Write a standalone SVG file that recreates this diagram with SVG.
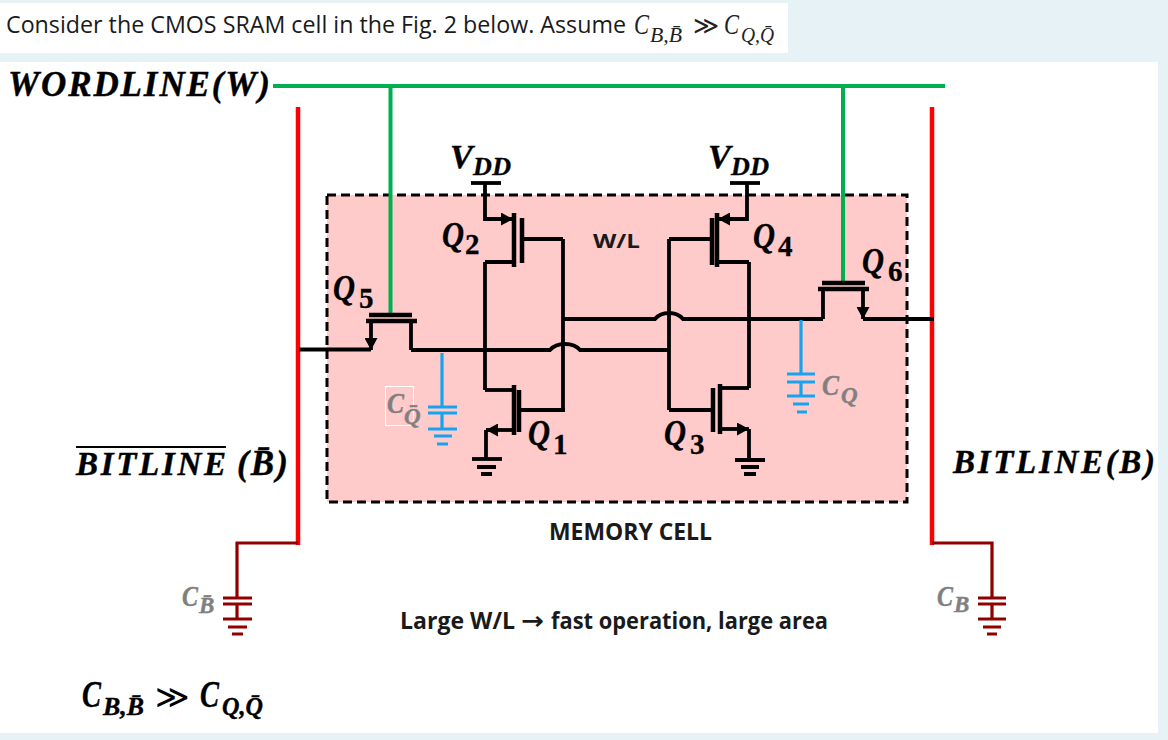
<svg xmlns="http://www.w3.org/2000/svg" width="1168" height="740" viewBox="0 0 1168 740">
<style>
.w{fill:none;stroke:#000;stroke-width:3.8;stroke-linejoin:miter}
.b{fill:none;stroke:#000;stroke-width:4.500}
.g{fill:none;stroke:#00b050;stroke-width:4}
.r{fill:none;stroke:#f00;stroke-width:4.500}
.d{fill:none;stroke:#8f0000;stroke-width:3.200}
.c{fill:none;stroke:#17a3ee;stroke-width:3.200}
.m{font-family:"Liberation Serif",serif;font-weight:bold;font-style:italic;fill:#000;stroke:#000;stroke-width:.4}
.n{font-family:"Liberation Serif",serif;font-weight:bold;fill:#000;stroke:#000;stroke-width:.3}
.gy{fill:#808080;stroke:#808080}
.s{font-family:"Open Sans","Liberation Sans",sans-serif;fill:#1a1a1a}
.sb{font-family:"Open Sans","Liberation Sans",sans-serif;font-weight:700;fill:#1a1a1a}
.t{font-family:"Liberation Serif",serif;font-style:italic;fill:#222}
</style>
<defs>
<marker id="ah" markerUnits="userSpaceOnUse" markerWidth="12" markerHeight="13" refX="12" refY="6.500" orient="auto"><path d="M0,0 L12,6.500 L0,13 Z" fill="#000"/></marker>
</defs>
<rect width="1168" height="740" fill="#e6f2f5"/>
<rect x="0" y="3" width="788" height="50" fill="#fff"/>
<rect x="0" y="62" width="1158" height="671" fill="#fff"/>
<g id="memory-cell"><rect x="327" y="195" width="580" height="307" fill="#ffcaca" stroke="#000" stroke-width="3" stroke-dasharray="9 5"/>
<text class="sb" x="549" y="540" font-size="23" textLength="163" lengthAdjust="spacingAndGlyphs">MEMORY CELL</text></g>
<g id="connectors">
<path class="g" d="M273 86H945"/><path class="g" d="M390.500 86V315"/><path class="g" d="M843 86V283"/>
<path class="r" d="M298 107V545"/><path class="r" d="M932 107V545"/>
<path class="d" d="M298 543H237V598"/><path class="d" d="M932 543H992V598"/>
<path class="w" d="M299 349.500H371"/>
<path class="w" d="M411 350H550Q555 344 565 344T580 350H669"/>
<path class="w" d="M563 319H655Q660 313 669 313T683 319H823"/>
<path class="w" d="M863 319H934"/>
<path class="w" d="M485 262V390"/><path class="w" d="M563 239V410"/><path class="w" d="M669 239V410"/><path class="w" d="M749 262V388"/>
<path class="c" d="M442 353V407"/><path class="c" d="M801 320V374"/>
</g>
<g id="Q2"><path class="w" d="M471 183H501"/><path class="w" d="M485 183V219H513" marker-end="url(#ah)"/><path class="b" d="M514 213V267M522 218V263"/><path class="w" d="M522 239H563M485 262H514"/>
<text class="m" x="450" y="168" font-size="34">V</text><text class="m" x="473" y="175" font-size="26" textLength="38" lengthAdjust="spacing">DD</text>
<text class="m" x="442" y="247" font-size="35" textLength="22" lengthAdjust="spacingAndGlyphs">Q</text><text class="n" x="465" y="254" font-size="29">2</text></g>
<g id="Q1"><path class="w" d="M485 390H514"/><path class="b" d="M514 385V435M519 390V432"/><path class="w" d="M519 410H565"/><path class="w" d="M514 430H486" marker-end="url(#ah)"/><path class="w" d="M486 430V459"/><path class="w" d="M472 459H502"/><path class="w" d="M477 467H496M481 474H492"/>
<text class="m" x="528" y="445" font-size="35" textLength="22" lengthAdjust="spacingAndGlyphs">Q</text><text class="n" x="553" y="454" font-size="29">1</text></g>
<g id="Q4"><path class="w" d="M730 183H760"/><path class="w" d="M747 183V219H718" marker-end="url(#ah)"/><path class="b" d="M717 213V267M712 218V265"/><path class="w" d="M712 239H669M717 262H749"/>
<text class="m" x="708" y="168" font-size="34">V</text><text class="m" x="731" y="175" font-size="26" textLength="38" lengthAdjust="spacing">DD</text>
<text class="m" x="753" y="248" font-size="35" textLength="22" lengthAdjust="spacingAndGlyphs">Q</text><text class="n" x="778" y="256" font-size="29">4</text></g>
<g id="Q3"><path class="w" d="M669 410H713"/><path class="b" d="M713 388V432M720 384V434"/><path class="w" d="M720 388H749"/><path class="w" d="M720 429H749" marker-end="url(#ah)"/><path class="w" d="M749 429V460"/><path class="w" d="M735 460H765M741 467H759M744 474H756"/>
<text class="m" x="664" y="445" font-size="35" textLength="22" lengthAdjust="spacingAndGlyphs">Q</text><text class="n" x="690" y="454" font-size="29">3</text></g>
<g id="Q5"><path class="b" d="M369 315H412M366 321H417"/><path class="w" d="M371 321V350" marker-end="url(#ah)"/><path class="w" d="M411 321V350"/>
<text class="m" x="333" y="300" font-size="35" textLength="22" lengthAdjust="spacingAndGlyphs">Q</text><text class="n" x="359" y="308" font-size="29">5</text></g>
<g id="Q6"><path class="b" d="M822 283H865M818 289H869"/><path class="w" d="M823 289V319"/><path class="w" d="M863 289V319" marker-end="url(#ah)"/>
<text class="m" x="862" y="273" font-size="35" textLength="22" lengthAdjust="spacingAndGlyphs">Q</text><text class="n" x="888" y="281" font-size="29">6</text></g>
<g id="C-Qbar"><path class="c" d="M428 407H457M428 413H457M442 413V429M428 429H457M434 436H452M437 444H448"/>
<rect x="385.500" y="386.500" width="28" height="39" fill="none" stroke="#fff" stroke-width="1"/>
<text class="m gy" x="387" y="413" font-size="29" textLength="17" lengthAdjust="spacingAndGlyphs">C</text><text class="m gy" x="404" y="424" font-size="23">Q̄</text></g>
<g id="C-Q"><path class="c" d="M787 374H815M787 382H815M801 382V396M787 396H815M793 404H809M797 412H807"/>
<text class="m gy" x="822" y="395" font-size="29" textLength="17" lengthAdjust="spacingAndGlyphs">C</text><text class="m gy" x="841" y="403" font-size="23">Q</text></g>
<g id="C-Bbar"><path class="d" d="M223 598H252M223 604H252M237 604V619M223 619H252M228 627H247M232 634H243"/>
<text class="m gy" x="182" y="606" font-size="29" textLength="16" lengthAdjust="spacingAndGlyphs">C</text><text class="m gy" x="199" y="613" font-size="23">B̄</text></g>
<g id="C-B"><path class="d" d="M978 598H1006M978 604H1006M992 604V619M978 619H1006M983 627H1001M987 634H997"/>
<text class="m gy" x="937" y="606" font-size="29" textLength="16" lengthAdjust="spacingAndGlyphs">C</text><text class="m gy" x="954" y="612" font-size="23">B</text></g>
<g id="labels">
<text class="s" x="6" y="33" font-size="23" textLength="620" lengthAdjust="spacingAndGlyphs">Consider the CMOS SRAM cell in the Fig. 2 below. Assume</text>
<text class="t" font-size="29" x="634" y="34" textLength="15" lengthAdjust="spacingAndGlyphs">C</text>
<text class="t" font-size="20" x="650" y="42" textLength="32" lengthAdjust="spacingAndGlyphs">B,B̄</text>
<text font-family="DejaVu Sans,sans-serif" font-size="25" fill="#222" x="693" y="34">≫</text>
<text class="t" font-size="29" x="724" y="34" textLength="15" lengthAdjust="spacingAndGlyphs">C</text>
<text class="t" font-size="20" x="741" y="42" textLength="33" lengthAdjust="spacingAndGlyphs">Q,Q̄</text>
<text class="m" x="8" y="96" font-size="35" textLength="262" lengthAdjust="spacing">WORDLINE(W)</text>
<text class="m" x="76" y="475" font-size="33" textLength="150" lengthAdjust="spacing">BITLINE</text>
<path d="M76 447H226" stroke="#000" stroke-width="2"/>
<text class="m" x="237" y="475" font-size="35" textLength="51" lengthAdjust="spacing">(B̄)</text>
<text class="m" x="953" y="473" font-size="33" textLength="202" lengthAdjust="spacing">BITLINE(B)</text>
<text class="sb" x="593" y="248" font-size="20" textLength="47" lengthAdjust="spacingAndGlyphs">W/L</text>
<text class="sb" x="400" y="629" font-size="23" textLength="115" lengthAdjust="spacingAndGlyphs">Large W/L</text>
<text font-family="DejaVu Sans,sans-serif" font-weight="bold" font-size="24" fill="#1a1a1a" x="521" y="629" textLength="23" lengthAdjust="spacingAndGlyphs">→</text>
<text class="sb" x="551" y="629" font-size="23" textLength="277" lengthAdjust="spacingAndGlyphs">fast operation, large area</text>
<text class="m" x="82" y="707" font-size="37" textLength="19" lengthAdjust="spacingAndGlyphs">C</text><text class="m" x="103" y="715" font-size="26" textLength="41" lengthAdjust="spacingAndGlyphs">B,B̄</text>
<text font-family="DejaVu Sans,sans-serif" font-size="33" x="155" y="708">≫</text>
<text class="m" x="200" y="707" font-size="37" textLength="19" lengthAdjust="spacingAndGlyphs">C</text><text class="m" x="222" y="715" font-size="26" textLength="41" lengthAdjust="spacingAndGlyphs">Q,Q̄</text>
</g>
</svg>
